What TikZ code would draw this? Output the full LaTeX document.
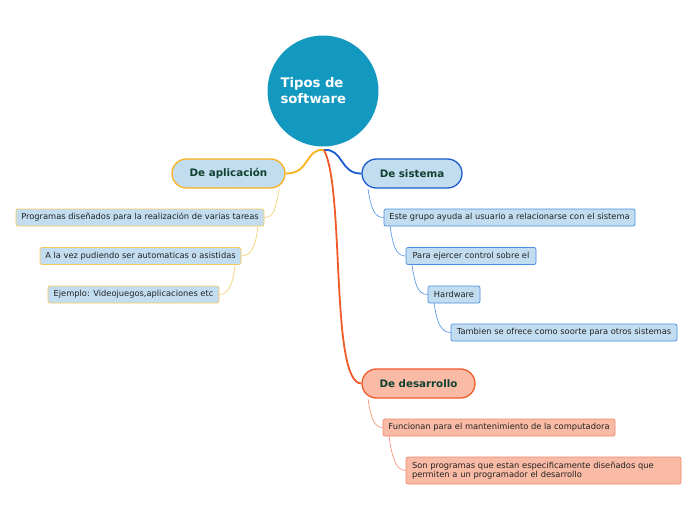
\documentclass[tikz,border=0pt]{standalone}
\usepackage{fontspec}
\setmainfont{DejaVu Sans}
\definecolor{core}{HTML}{1399C0}
\definecolor{lblue}{HTML}{C3DDF0}
\definecolor{orA}{HTML}{F9B21A}
\definecolor{orB}{HTML}{F6CB62}
\definecolor{blA}{HTML}{1A5BD0}
\definecolor{blB}{HTML}{4A90E2}
\definecolor{saF}{HTML}{F9BBA6}
\definecolor{saA}{HTML}{F25A28}
\definecolor{saB}{HTML}{F38A6C}
\definecolor{dgreen}{HTML}{10402F}
\definecolor{ink}{HTML}{222222}
\begin{document}
\begin{tikzpicture}[x=1pt,y=-1pt,
  main/.style={rounded corners=14.5pt,line width=1.3pt,minimum height=29pt,inner sep=0pt,font=\fontsize{10.3}{12}\selectfont\bfseries,text=dgreen},
  sub/.style={rounded corners=2pt,line width=0.7pt,minimum height=17pt,inner sep=0pt,font=\fontsize{8.3}{9.6}\selectfont,text=ink},
  thin/.style={line width=0.6pt},
  thick/.style={line width=1.8pt}]
\useasboundingbox (0,0) rectangle (696,520);
\fill[white] (0,0) rectangle (696,520);
% centre
\node[circle,fill=core,minimum size=111pt,inner sep=0pt] (core) at (323,91) {};
\node[anchor=west,align=left,text=white,font=\fontsize{13.2}{16}\selectfont\bfseries] (title) at (277,91) {Tipos de\\software};
\coordinate (cb) at (324,150);
% main topics
\node[main,fill=lblue,draw=orA,minimum width=113pt] (app) at (228.5,173.5) {De aplicación};
\node[main,fill=lblue,draw=blA,minimum width=100pt] (sis) at (412,173.5) {De sistema};
\node[main,fill=saF,draw=saA,minimum width=113pt] (des) at (418.5,383.5) {De desarrollo};
% main connectors
\draw[thick,orA] (cb) .. controls (305,148) and (310,174) .. (app.east);
\draw[thick,blA] (cb) .. controls (343,148) and (340,174) .. (sis.west);
\draw[thick,saA] (cb) .. controls (345,190) and (330,383) .. (des.west);
% aplicacion subtopics
\node[sub,fill=lblue,draw=orB,minimum width=248pt] (a1) at (140,217.5) {Programas diseñados para la realización de varias tareas};
\node[sub,fill=lblue,draw=orB,minimum width=201pt] (a2) at (140.5,256) {A la vez pudiendo ser automaticas o asistidas};
\node[sub,fill=lblue,draw=orB,minimum width=171pt] (a3) at (133.5,294.5) {Ejemplo: Videojuegos,aplicaciones etc};
\coordinate (ap0) at (279,189);
\coordinate (a10) at (258,226);
\coordinate (a20) at (235,265);
\draw[thin,orB] (ap0) .. controls (276,208) and (274,217.5) .. (a1.east);
\draw[thin,orB] (a10) .. controls (256,246) and (251,256) .. (a2.east);
\draw[thin,orB] (a20) .. controls (233,285) and (228,294.5) .. (a3.east);
% sistema subtopics
\node[sub,fill=lblue,draw=blB,minimum width=251pt] (s1) at (509.5,217.5) {Este grupo ayuda al usuario a relacionarse con el sistema};
\node[sub,fill=lblue,draw=blB,minimum width=130pt] (s2) at (471,256) {Para ejercer control sobre el};
\node[sub,fill=lblue,draw=blB,minimum width=52pt] (s3) at (454,294.5) {Hardware};
\node[sub,fill=lblue,draw=blB,minimum width=226pt] (s4) at (564,332.5) {Tambien se ofrece como soorte para otros sistemas};
\coordinate (sp0) at (368,189);
\coordinate (s10) at (390,226);
\coordinate (s20) at (412,265);
\coordinate (s30) at (434,303);
\draw[thin,blB] (sp0) .. controls (371,208) and (374,217.5) .. (s1.west);
\draw[thin,blB] (s10) .. controls (393,246) and (396,256) .. (s2.west);
\draw[thin,blB] (s20) .. controls (415,285) and (418,294.5) .. (s3.west);
\draw[thin,blB] (s30) .. controls (437,323) and (441,332.5) .. (s4.west);
% desarrollo subtopics
\node[sub,fill=saF,draw=saB,minimum width=232pt] (d1) at (499,427.5) {Funcionan para el mantenimiento de la computadora};
\node[sub,fill=saF,draw=saB,minimum width=275pt,minimum height=27pt,align=left,text width=263pt] (d2) at (543.5,470.5) {Son programas que estan especificamente diseñados que\\permiten a un programador el desarrollo};
\coordinate (dp0) at (368,399);
\coordinate (d10) at (389,436);
\draw[thin,saB] (dp0) .. controls (371,418) and (374,427.5) .. (d1.west);
\draw[thin,saB] (d10) .. controls (392,458) and (396,470.5) .. (d2.west);
\end{tikzpicture}
\end{document}
